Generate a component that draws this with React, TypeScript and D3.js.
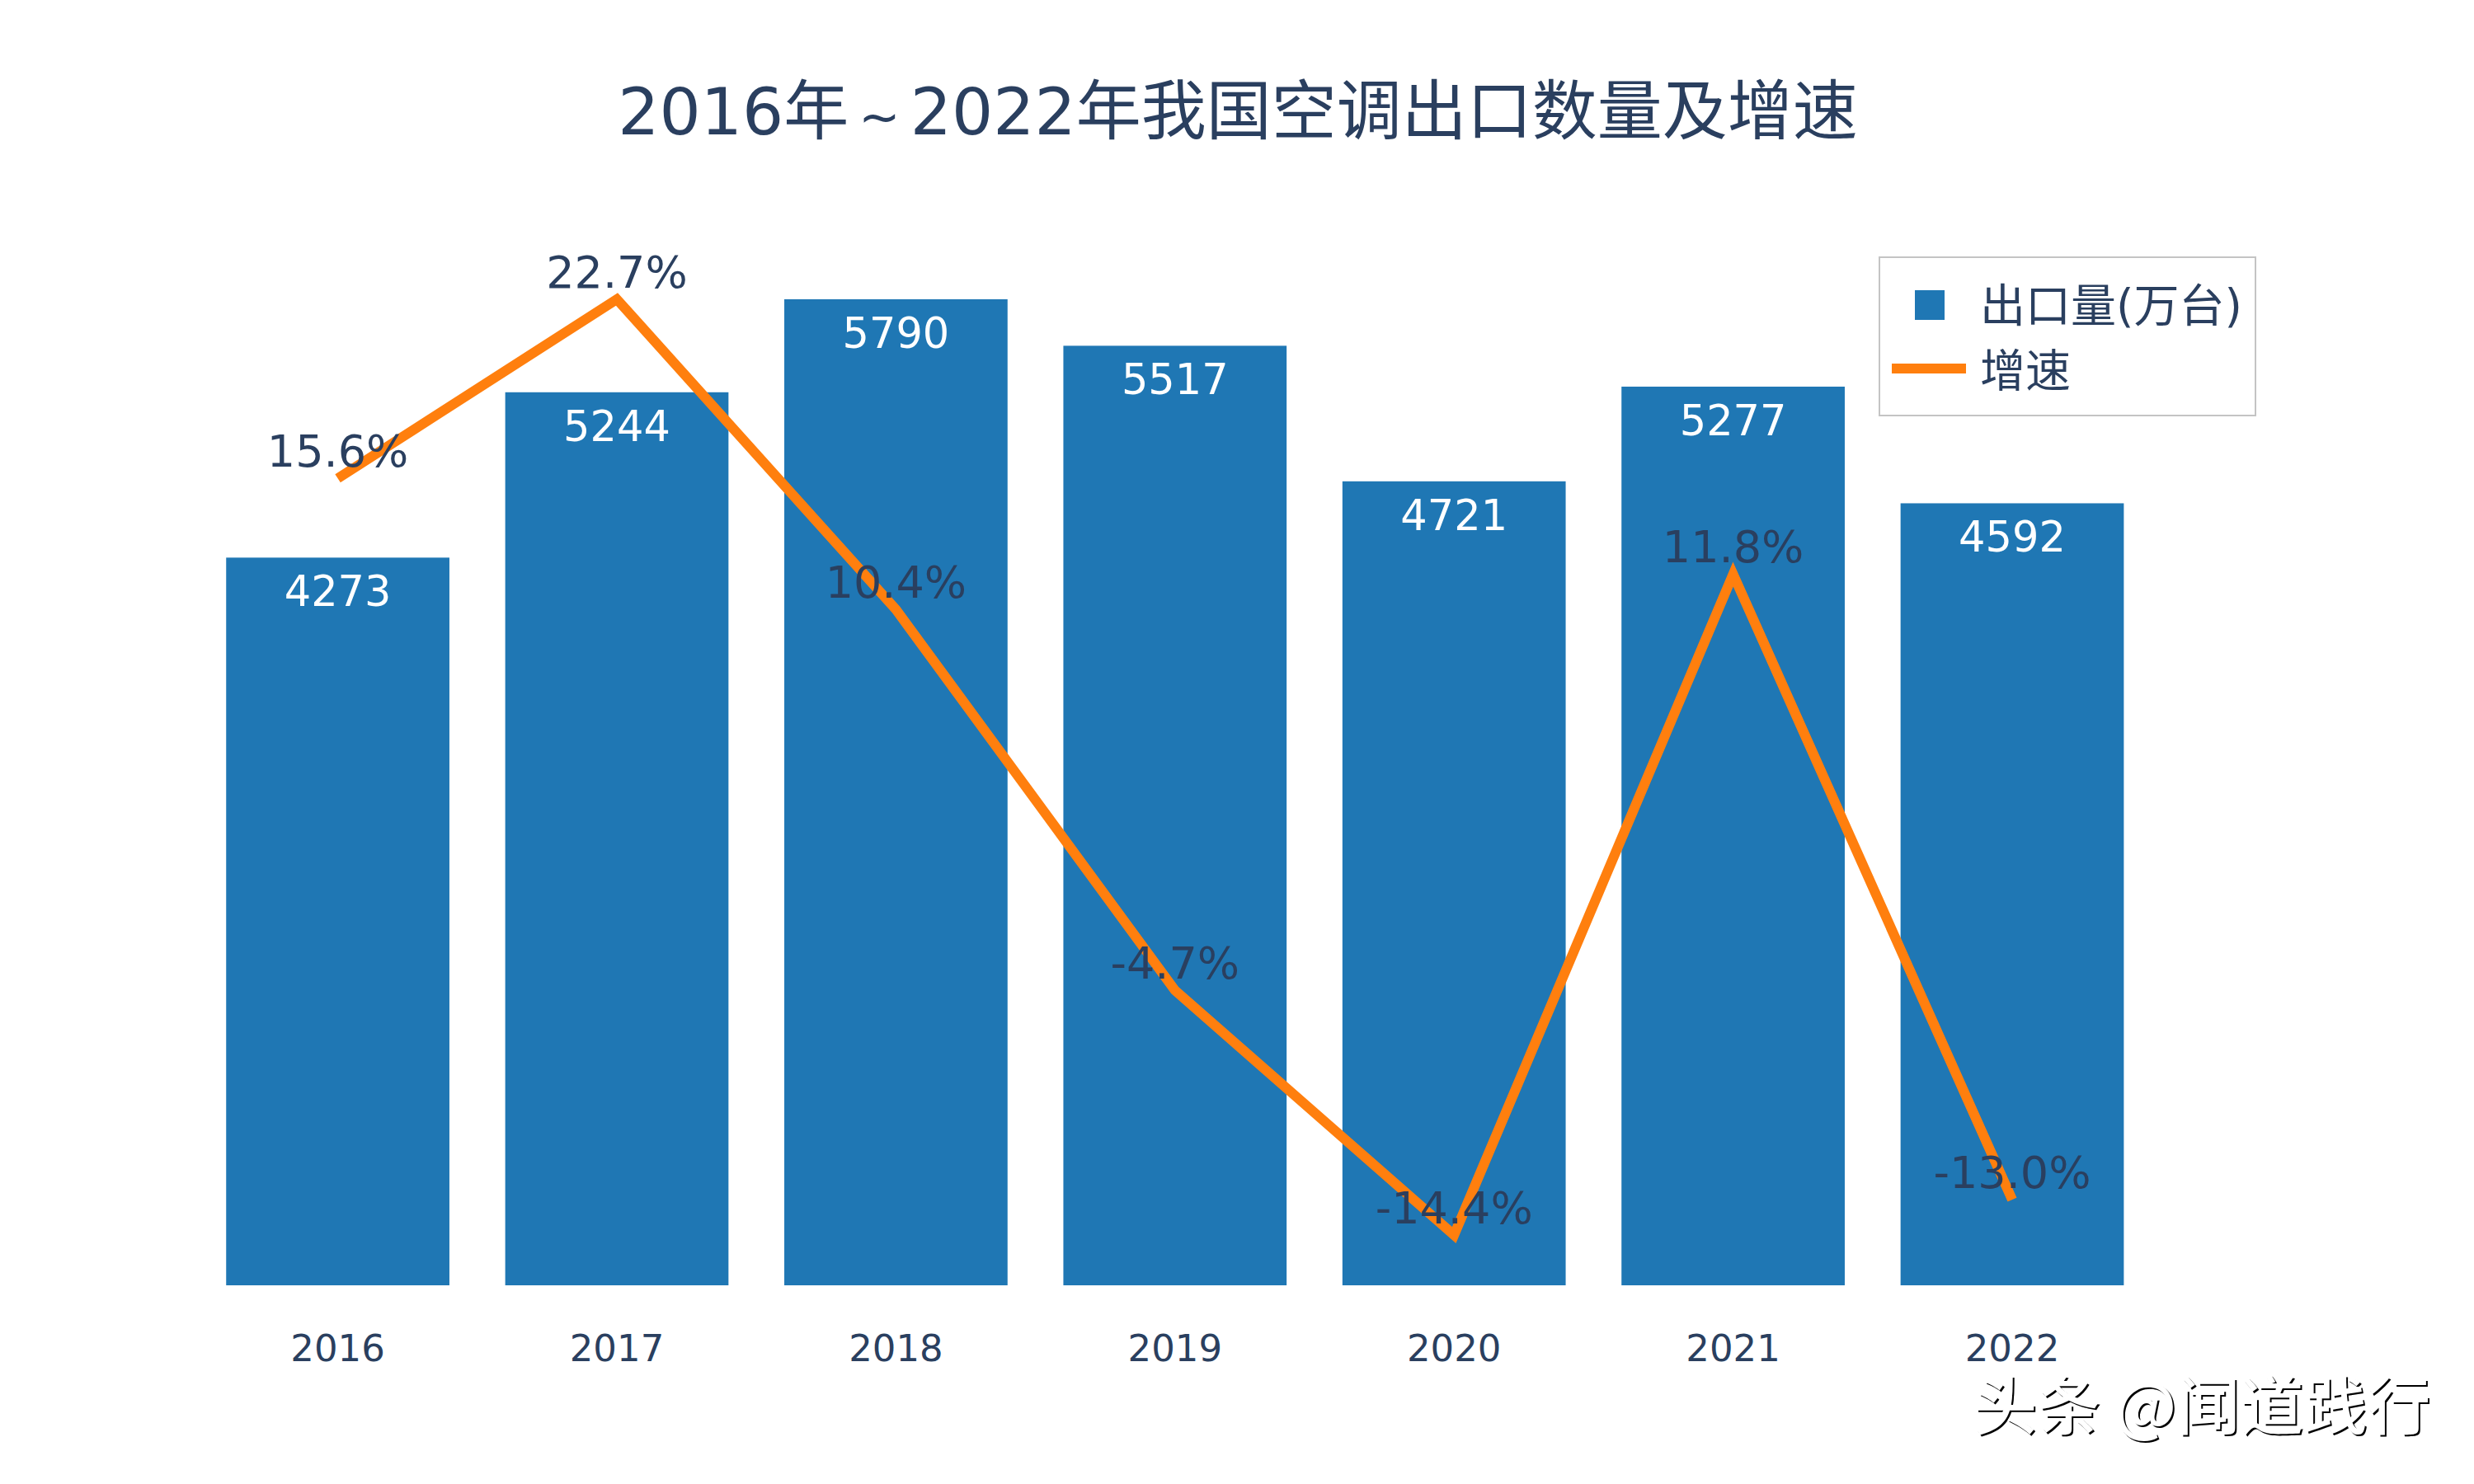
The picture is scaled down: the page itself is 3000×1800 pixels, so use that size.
import { useEffect, useRef } from 'react';
import * as d3 from 'd3';

const years = ['2016', '2017', '2018', '2019', '2020', '2021', '2022'];
const exportVolume = [4273, 5244, 5790, 5517, 4721, 5277, 4592];
const growthRate = [15.6, 22.7, 10.4, -4.7, -14.4, 11.8, -13.0];

const titleStart = '2016年';
const titleEnd = '2022年我国空调出口数量及增速';
const barSeriesName = '出口量(万台)';
const lineSeriesName = '增速';
const watermark = '头条 @闻道践行';

const width = 3000;
const height = 1800;
const fontFamily = '"DejaVu Sans", "Noto Sans CJK SC", sans-serif';
const textColor = '#2a3f5f';
const barColor = '#1f77b4';
const lineColor = '#ff7f0e';

export default function App() {
  const svgRef = useRef<SVGSVGElement>(null);

  useEffect(() => {
    if (!svgRef.current) return;

    const svg = d3.select(svgRef.current);
    svg.selectAll('*').remove();
    svg.style('font-family', fontFamily);

    svg.append('rect').attr('width', width).attr('height', height).attr('fill', '#fff');

    const x = d3.scaleBand<string>()
      .domain(years)
      .range([240.4, 2609.2])
      .paddingInner(0.2)
      .paddingOuter(0.1);

    const y = d3.scaleLinear().domain([0, 5790]).range([1559, 363]);
    const yRate = d3.scaleLinear().domain([-14.4, 22.7]).range([1498, 363]);
    const center = (d: string) => (x(d) || 0) + x.bandwidth() / 2;

    // title, the tilde is a smaller glyph with some air around it
    const titleText = svg.append('text')
      .attr('x', 1501)
      .attr('y', 163)
      .attr('text-anchor', 'middle')
      .style('font-size', '79px')
      .style('fill', textColor);
    titleText.append('tspan').text(titleStart);
    titleText.append('tspan')
      .attr('dx', 12)
      .style('font-size', '60px')
      .text('~');
    titleText.append('tspan').attr('dx', 12).text(titleEnd);

    // bars
    svg.append('g')
      .selectAll('rect')
      .data(exportVolume)
      .enter().append('rect')
      .attr('x', (_, i) => x(years[i]) || 0)
      .attr('width', x.bandwidth())
      .attr('y', d => y(d))
      .attr('height', d => y(0) - y(d))
      .attr('fill', barColor);

    // bar labels
    svg.append('g')
      .selectAll('text')
      .data(exportVolume)
      .enter().append('text')
      .attr('x', (_, i) => center(years[i]))
      .attr('y', d => y(d) + 59)
      .attr('text-anchor', 'middle')
      .style('font-size', '51px')
      .style('fill', '#fff')
      .text(d => d);

    // growth line
    const line = d3.line<number>()
      .x((_, i) => center(years[i]))
      .y(d => yRate(d));

    svg.append('path')
      .datum(growthRate)
      .attr('fill', 'none')
      .attr('stroke', lineColor)
      .attr('stroke-width', 12)
      .attr('d', line);

    // growth labels
    svg.append('g')
      .selectAll('text')
      .data(growthRate)
      .enter().append('text')
      .attr('x', (_, i) => center(years[i]))
      .attr('y', d => yRate(d) - 14)
      .attr('text-anchor', 'middle')
      .style('font-size', '54px')
      .style('fill', textColor)
      .text(d => `${d.toFixed(1)}%`);

    // x axis
    const axis = svg.append('g')
      .attr('transform', 'translate(0,1559)')
      .call(d3.axisBottom(x).tickSize(0).tickPadding(60));
    axis.select('.domain').remove();
    axis.selectAll('text')
      .style('font-family', fontFamily)
      .style('font-size', '45px')
      .style('fill', textColor);

    // legend
    const legend = svg.append('g').attr('transform', 'translate(2279,312)');
    legend.append('rect')
      .attr('width', 456)
      .attr('height', 192)
      .attr('fill', '#fff')
      .attr('stroke', '#c4c4c4')
      .attr('stroke-width', 2);
    legend.append('rect')
      .attr('x', 43)
      .attr('y', 40)
      .attr('width', 36)
      .attr('height', 36)
      .attr('fill', barColor);
    legend.append('line')
      .attr('x1', 15)
      .attr('x2', 105)
      .attr('y1', 135)
      .attr('y2', 135)
      .attr('stroke', lineColor)
      .attr('stroke-width', 12);
    legend.append('text')
      .attr('x', 122)
      .attr('y', 78)
      .style('font-size', '55px')
      .style('fill', textColor)
      .text(barSeriesName);
    legend.append('text')
      .attr('x', 122)
      .attr('y', 157)
      .style('font-size', '55px')
      .style('fill', textColor)
      .text(lineSeriesName);

    // watermark, embossed look
    svg.append('text')
      .attr('x', 2393)
      .attr('y', 1734)
      .style('font-family', '"Noto Sans CJK SC", sans-serif')
      .style('font-size', '77px')
      .style('font-weight', '500')
      .style('fill', '#fff')
      .style('filter', 'drop-shadow(2px 2px 0 #000)')
      .text(watermark);
  }, []);

  return (
    <svg
      ref={svgRef}
      width={width}
      height={height}
      style={{ position: 'absolute', left: 0, top: 0 }}
    />
  );
}
